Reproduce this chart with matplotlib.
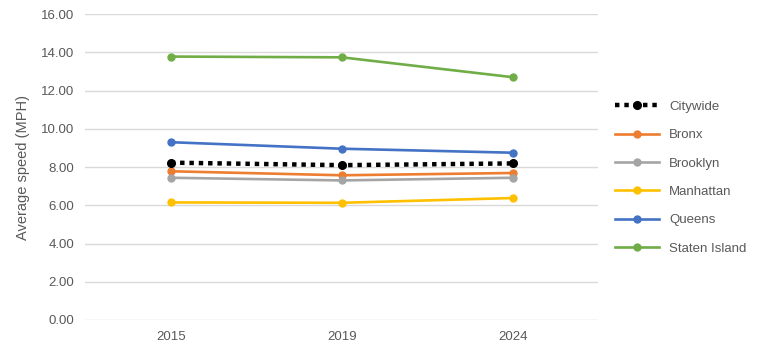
import matplotlib
matplotlib.use("Agg")
from matplotlib import pyplot as plt

years = ["2015", "2019", "2024"]
citywide = [8.23, 8.10, 8.19]
bronx = [7.78, 7.57, 7.69]
brooklyn = [7.44, 7.30, 7.44]
manhattan = [6.15, 6.13, 6.38]
queens = [9.30, 8.96, 8.75]
staten_island = [13.78, 13.74, 12.70]

series = [
    ("Citywide", citywide, "black"),
    ("Bronx", bronx, "#ED7D31"),
    ("Brooklyn", brooklyn, "#A5A5A5"),
    ("Manhattan", manhattan, "#FFC000"),
    ("Queens", queens, "#4472C4"),
    ("Staten Island", staten_island, "#70AD47"),
]

plt.rcParams['font.family'] = ['Liberation Sans', 'DejaVu Sans']
fig = plt.figure(figsize=(7.68, 3.53), dpi=100)
ax = fig.add_axes([0.111, 0.0935, 0.668, 0.8665])

x = list(range(len(years)))
for name, vals, col in series:
    if name == "Citywide":
        ax.plot(x, vals, color=col, lw=3.2, linestyle=(0, (1, 1.1)),
                dash_capstyle="butt", marker="o", markersize=5.5, label=name, zorder=3)
    else:
        ax.plot(x, vals, color=col, lw=1.9, marker="o", markersize=5, label=name, zorder=2)

ax.set_xlim(-0.5, 2.5)
ax.set_ylim(0, 16)
ax.set_yticks([0, 2, 4, 6, 8, 10, 12, 14, 16])
ax.set_yticklabels([f"{v:.2f}" for v in ax.get_yticks()])
ax.set_xticks(x)
ax.set_xticklabels(years)
ax.grid(axis="y", color="#D9D9D9", lw=1)
ax.set_axisbelow(True)
for s in ax.spines.values():
    s.set_visible(False)
ax.tick_params(length=0, labelsize=9.5, colors="#595959", pad=8)
ax.set_ylabel("Average speed (MPH)", fontsize=10.5, color="#595959", labelpad=8)

ax.legend(loc="center left", bbox_to_anchor=(1.01, 0.465), frameon=False,
          fontsize=9.5, labelcolor="#595959", labelspacing=1.22,
          handlelength=3.3, handletextpad=0.8)

fig.savefig("out.png", dpi=100)
